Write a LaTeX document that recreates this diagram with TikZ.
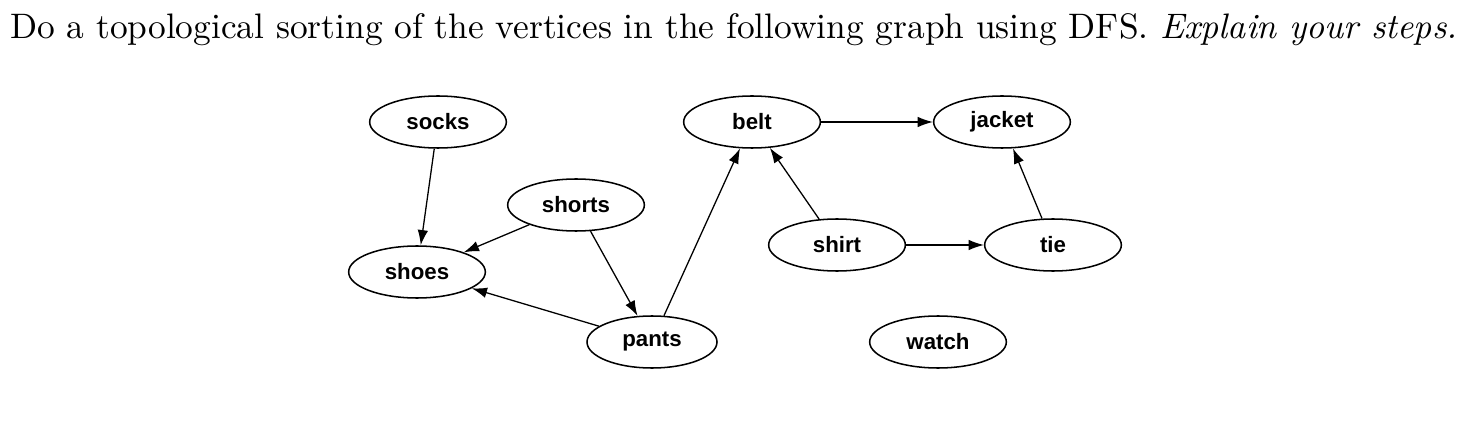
\documentclass[tikz,border=0pt]{standalone}
\usepackage{fontspec}
\newfontfamily\lab{Liberation Sans}
\usetikzlibrary{shapes.geometric,arrows.meta}
\begin{document}
\begin{tikzpicture}[x=0.03cm,y=-0.03cm,
  vtx/.style={ellipse,draw,line width=1.3pt,minimum width=4.1cm,minimum height=1.56cm,inner sep=0pt,font=\lab\bfseries\fontsize{19}{22}\selectfont},
  arr/.style={-{Latex[length=13pt,width=9pt]},line width=1.1pt}]
\useasboundingbox (0,0) rectangle (1468,430);
\node[anchor=west,inner sep=0pt] (q) at (10,30) {\resizebox{43.4cm}{!}{Do a topological sorting of the vertices in the following graph using DFS. \textit{Explain your steps.}}};
\node[vtx] (socks) at (438,122) {socks};
\node[vtx] (belt) at (752,122) {belt};
\node[vtx] (jacket) at (1002,122) {jacket};
\node[vtx] (shorts) at (576,205) {shorts};
\node[vtx] (shirt) at (837,245) {shirt};
\node[vtx] (tie) at (1053,245) {tie};
\node[vtx] (shoes) at (417,272) {shoes};
\node[vtx,minimum width=3.9cm] (pants) at (652,342) {pants};
\node[vtx] (watch) at (938,342) {watch};
\draw[arr] (socks) -- (shoes);
\draw[arr] (shorts) -- (shoes);
\draw[arr] (shorts) -- (pants);
\draw[arr] (pants) -- (shoes);
\draw[arr] (pants) -- (belt);
\draw[arr] (belt) -- (jacket);
\draw[arr] (shirt) -- (belt);
\draw[arr] (shirt) -- (tie);
\draw[arr] (tie) -- (jacket);
\end{tikzpicture}
\end{document}
